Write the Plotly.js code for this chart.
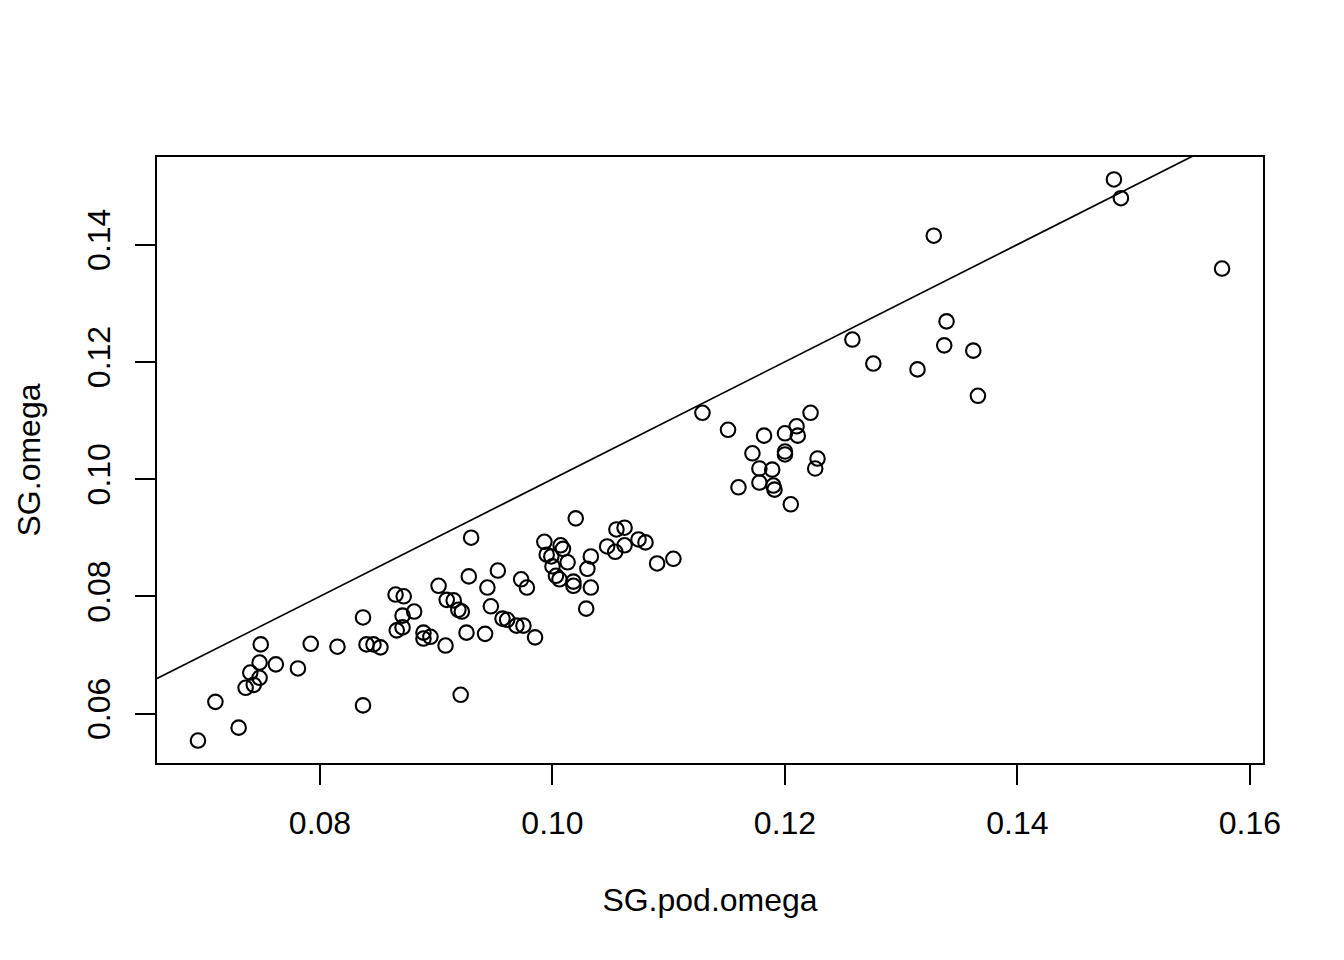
<!DOCTYPE html>
<html>
<head>
<meta charset="utf-8">
<script src="https://cdn.plot.ly/plotly-3.0.1.min.js"></script>
<style>
  html, body { margin: 0; padding: 0; background: #ffffff; }
  #chart { width: 1344px; height: 960px; }
</style>
</head>
<body>
<div id="chart"></div>
<script>
// SG.pod.omega vs SG.omega
const podOmega = [
  0.0695, 0.0730, 0.0710, 0.0837, 0.0749, 0.0748, 0.0740, 0.0748, 0.0743, 0.0736,
  0.0762, 0.0781, 0.0792, 0.0815, 0.0837, 0.0840, 0.0846, 0.0852, 0.0865, 0.0872,
  0.0871, 0.0881, 0.0866, 0.0871, 0.0889, 0.0889, 0.0895, 0.0908, 0.0902, 0.0909,
  0.0915, 0.0919, 0.0922, 0.0921, 0.0930, 0.0928, 0.0953, 0.0944, 0.0947, 0.0926,
  0.0942, 0.0957, 0.0961, 0.0969, 0.0975, 0.0985, 0.0973, 0.0978, 0.0993, 0.1007,
  0.1009, 0.0995, 0.0999, 0.1000, 0.1013, 0.1003, 0.1006, 0.1018, 0.1018, 0.1033,
  0.1030, 0.1033, 0.1029, 0.1020, 0.1047, 0.1054, 0.1055, 0.1062, 0.1062, 0.1074,
  0.1080, 0.1090, 0.1104, 0.1129, 0.1151, 0.1182, 0.1222, 0.1210, 0.1211, 0.1200,
  0.1172, 0.1200, 0.1200, 0.1228, 0.1226, 0.1178, 0.1189, 0.1178, 0.1190, 0.1191,
  0.1160, 0.1205, 0.1258, 0.1276, 0.1314, 0.1337, 0.1339, 0.1362, 0.1366, 0.1328,
  0.1483, 0.1489, 0.1576
];
const omega = [
  0.0554, 0.0576, 0.0620, 0.0614, 0.0718, 0.0687, 0.0670, 0.0661, 0.0649, 0.0644,
  0.0684, 0.0677, 0.0719, 0.0714, 0.0764, 0.0718, 0.0718, 0.0713, 0.0803, 0.0800,
  0.0767, 0.0774, 0.0742, 0.0747, 0.0738, 0.0728, 0.0731, 0.0716, 0.0818, 0.0794,
  0.0793, 0.0777, 0.0774, 0.0632, 0.0900, 0.0834, 0.0844, 0.0815, 0.0783, 0.0738,
  0.0736, 0.0762, 0.0760, 0.0750, 0.0750, 0.0730, 0.0829, 0.0815, 0.0893, 0.0887,
  0.0881, 0.0871, 0.0868, 0.0851, 0.0858, 0.0835, 0.0829, 0.0825, 0.0818, 0.0868,
  0.0847, 0.0815, 0.0779, 0.0933, 0.0885, 0.0876, 0.0914, 0.0917, 0.0887, 0.0897,
  0.0892, 0.0856, 0.0864, 0.1113, 0.1084, 0.1074, 0.1113, 0.1090, 0.1074, 0.1078,
  0.1044, 0.1047, 0.1042, 0.1035, 0.1018, 0.1018, 0.1016, 0.0994, 0.0989, 0.0982,
  0.0986, 0.0957, 0.1238, 0.1197, 0.1187, 0.1228, 0.1269, 0.1219, 0.1142, 0.1415,
  0.1511, 0.1479, 0.1359
];

// reference line: abline(0, 1)
const ablineIntercept = 0;
const ablineSlope = 1;

const axisFont = { family: 'Liberation Sans, Arial, Helvetica, sans-serif', size: 32, color: '#000000' };

// R style 4% padding around the data
function paddedRange(values) {
    const lo = Math.min(...values);
    const hi = Math.max(...values);
    const pad = (hi - lo) * 0.04;
    return [lo - pad, hi + pad];
}

const xRange = paddedRange(podOmega);
const yRange = paddedRange(omega);

const points = {
    x: podOmega,
    y: omega,
    type: 'scatter',
    mode: 'markers',
    marker: {
        symbol: 'circle-open',
        size: 14.5,
        color: '#000000',
        line: { color: '#000000', width: 2.1 }
    },
    hoverinfo: 'x+y'
};

const abline = {
    x: xRange,
    y: xRange.map(v => ablineIntercept + ablineSlope * v),
    type: 'scatter',
    mode: 'lines',
    line: { color: '#000000', width: 1.7 },
    hoverinfo: 'skip'
};

const layout = {
    width: 1344,
    height: 960,
    showlegend: false,
    paper_bgcolor: '#ffffff',
    plot_bgcolor: '#ffffff',
    margin: { l: 157, r: 81, t: 157, b: 197 },
    font: axisFont,
    xaxis: {
        range: xRange,
        tick0: 0,
        dtick: 0.02,
        tickformat: '.2f',
        ticks: 'outside',
        ticklen: 20,
        tickwidth: 1.7,
        tickcolor: '#000000',
        ticklabelstandoff: 11,
        showline: true,
        mirror: true,
        linecolor: '#000000',
        linewidth: 1.7,
        showgrid: false,
        zeroline: false,
        tickfont: axisFont,
        title: { text: 'SG.pod.omega', font: axisFont, standoff: 48 }
    },
    yaxis: {
        range: yRange,
        tick0: 0,
        dtick: 0.02,
        tickformat: '.2f',
        tickangle: -90,
        ticks: 'outside',
        ticklen: 20,
        tickwidth: 1.7,
        tickcolor: '#000000',
        ticklabelstandoff: 12,
        showline: true,
        mirror: true,
        linecolor: '#000000',
        linewidth: 1.7,
        showgrid: false,
        zeroline: false,
        tickfont: axisFont,
        title: { text: 'SG.omega', font: axisFont, standoff: 31 }
    }
};

try {
    Plotly.newPlot('chart', [abline, points], layout, { displayModeBar: false, responsive: false });
} catch (error) {
    console.log('Error creating scatter chart:', error);
}
</script>
</body>
</html>
